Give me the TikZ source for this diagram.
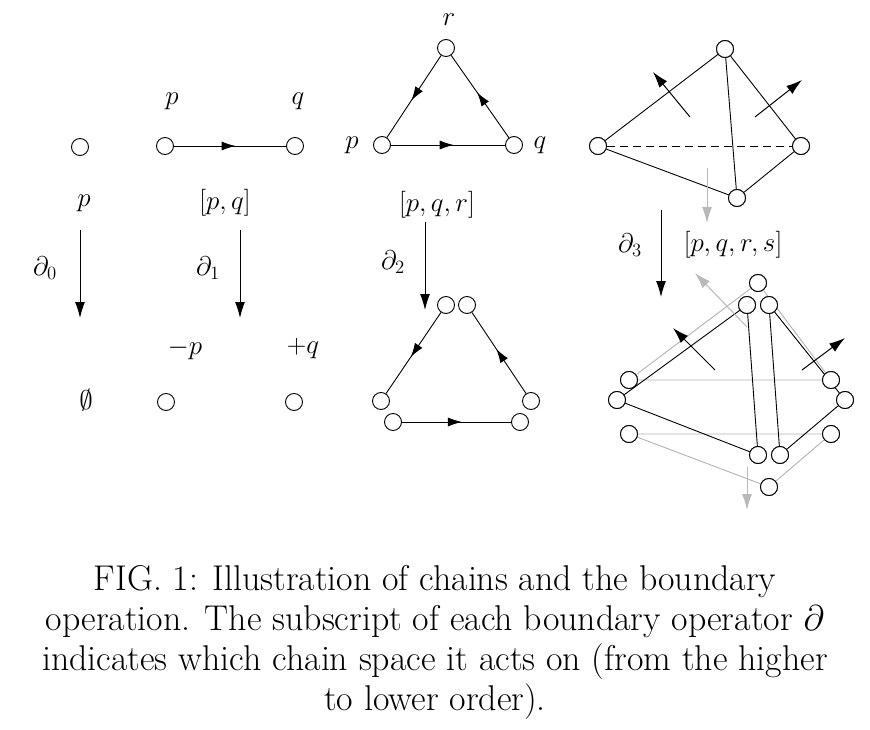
\documentclass[tikz,border=0pt]{standalone}
\usetikzlibrary{arrows.meta,decorations.markings}
\begin{document}
\begin{tikzpicture}[x=1pt,y=-1pt,
  v/.style={circle,draw,fill=white,inner sep=0pt,minimum size=17pt,line width=0.9pt},
  gv/.style={v},
  lab/.style={font=\fontsize{20.74}{25}\selectfont,scale=1.3},
  ed/.style={line width=0.9pt},
  ged/.style={line width=0.9pt,gray!60},
  marr/.style={ed,postaction={decorate},decoration={markings,mark=at position 0.55 with {\arrow{Latex[length=14pt,width=9pt]}}}},
  bar/.style={line width=1pt,-{Latex[length=16pt,width=10pt]}},
  gbar/.style={line width=1pt,gray!55,-{Latex[length=16pt,width=10pt]}}]
\useasboundingbox (0,0) rectangle (870,730);
% 0-simplex
\node[v] (a0) at (80,147) {};
\node[lab] (lp0) at (84,203) {$p$};
\node[lab] (e0) at (86,400) {$\emptyset$};
\node[lab] (d0) at (45,268) {$\partial_0$};
\coordinate (s0) at (80,230); \coordinate (t0) at (80,318);
\draw[bar] (s0) -- (t0);
% 1-simplex
\node[v] (p1) at (165,146) {};
\node[v] (q1) at (295,146) {};
\node[lab] at (172,101) {$p$};
\node[lab] at (298,101) {$q$};
\draw[marr] (p1) -- (q1);
\node[lab] at (225,203) {$[p,q]$};
\node[lab] at (208,268) {$\partial_1$};
\coordinate (s1) at (240,230); \coordinate (t1) at (240,318);
\draw[bar] (s1) -- (t1);
\node[lab] at (185,349) {$-p$};
\node[lab] at (303,349) {$+q$};
\node[v] (p1b) at (166,402) {};
\node[v] (q1b) at (294,402) {};
% 2-simplex
\node[v] (r2) at (446,48) {};
\node[v] (p2) at (382,145) {};
\node[v] (q2) at (514,145) {};
\node[lab] at (449,20) {$r$};
\node[lab] at (352,145) {$p$};
\node[lab] at (540,145) {$q$};
\draw[marr] (p2) -- (q2);
\draw[marr] (q2) -- (r2);
\draw[marr] (r2) -- (p2);
\node[lab] at (437,205) {$[p,q,r]$};
\node[lab] at (393,262) {$\partial_2$};
\coordinate (s2) at (425,222); \coordinate (t2) at (425,310);
\draw[bar] (s2) -- (t2);
\node[v] (tl) at (446,305) {};
\node[v] (tr) at (467,305) {};
\node[v] (bl1) at (381,401) {};
\node[v] (br1) at (531,401) {};
\node[v] (bl2) at (393,422) {};
\node[v] (br2) at (520,422) {};
\draw[marr] (tl) -- (bl1);
\draw[marr] (br1) -- (tr);
\draw[marr] (bl2) -- (br2);
% 3-simplex top
\node[v] (A) at (725,49) {};
\node[v] (L) at (598,146) {};
\node[v] (R) at (801,146) {};
\node[v] (B) at (737,198) {};
\draw[ed,dash pattern=on 8pt off 5pt] (L) -- (R);
\draw[ed] (L) -- (A) -- (R) -- (B) -- (L);
\draw[ed] (A) -- (B);
\node[v] at (725,49) {};
\node[v] at (598,146) {};
\node[v] at (801,146) {};
\node[v] at (737,198) {};
\coordinate (n1s) at (690,117); \coordinate (n1t) at (653,72);
\coordinate (n2s) at (755,117); \coordinate (n2t) at (802,80);
\coordinate (n3s) at (707,168); \coordinate (n3t) at (707,223);
\draw[bar] (n1s) -- (n1t);
\draw[bar] (n2s) -- (n2t);
\draw[gbar] (n3s) -- (n3t);
\node[lab] at (630,245) {$\partial_3$};
\node[lab] at (733,245) {$[p,q,r,s]$};
\coordinate (s3) at (661,210); \coordinate (t3) at (661,297);
\draw[bar] (s3) -- (t3);
% 3-simplex boundary
\node[gv] (gt) at (758,283) {};
\node[gv] (gl) at (629,380) {};
\node[gv] (gr) at (831,380) {};
\node[gv] (hl) at (629,434) {};
\node[gv] (hr) at (831,434) {};
\node[gv] (hb) at (769,487) {};
\draw[ged] (gt) -- (gl) -- (gr) -- (gt);
\draw[ged] (hl) -- (hr) -- (hb) -- (hl);
\node[v] (kt) at (747,305) {};
\node[v] (kl) at (617,400) {};
\node[v] (kb) at (758,455) {};
\node[v] (mt) at (769,305) {};
\node[v] (mr) at (845,400) {};
\node[v] (mb) at (780,455) {};
\draw[ed] (kt) -- (kl) -- (kb) -- (kt);
\draw[ed] (mt) -- (mb) -- (mr) -- (mt);
\node[gv] at (758,283) {};
\node[gv] at (629,380) {};
\node[gv] at (831,380) {};
\node[gv] at (629,434) {};
\node[gv] at (831,434) {};
\node[gv] at (769,487) {};
\node[v] at (747,305) {};
\node[v] at (617,400) {};
\node[v] at (758,455) {};
\node[v] at (769,305) {};
\node[v] at (845,400) {};
\node[v] at (780,455) {};
\coordinate (g1s) at (747,327); \coordinate (g1t) at (695,273);
\coordinate (k1s) at (715,370); \coordinate (k1t) at (673,328);
\coordinate (k2s) at (802,370); \coordinate (k2t) at (845,338);
\coordinate (g2s) at (747,467); \coordinate (g2t) at (747,510);
\draw[gbar] (g1s) -- (g1t);
\draw[bar] (k1s) -- (k1t);
\draw[bar] (k2s) -- (k2t);
\draw[gbar] (g2s) -- (g2t);
% caption
\node[font=\fontsize{24.88}{27.8}\selectfont,align=center,scale=1.44] (cap) at (435,642)
 {FIG. 1: Illustration of chains and the boundary\\ operation. The subscript of each boundary operator $\partial$\\ indicates which chain space it acts on (from the higher\\ to lower order).};
\end{tikzpicture}
\end{document}
